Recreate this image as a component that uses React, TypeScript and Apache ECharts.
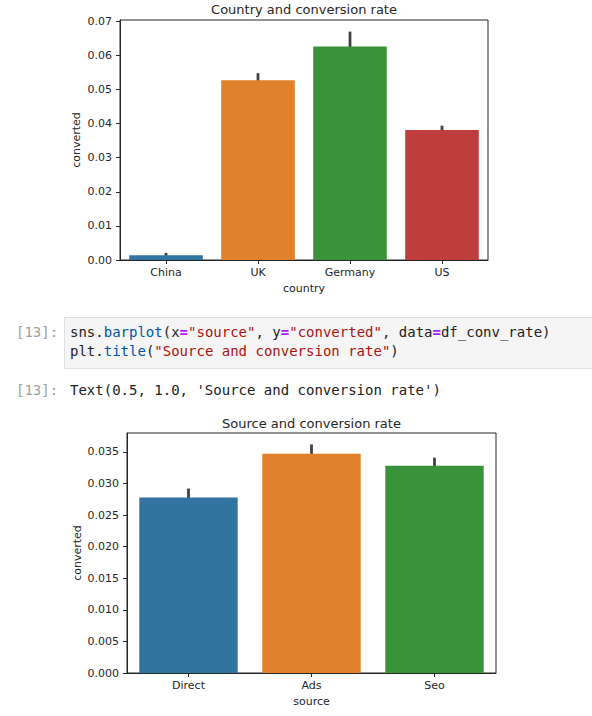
import { useEffect, useRef } from "react";
import * as echarts from "echarts";

const countries = ["China", "UK", "Germany", "US"];
const countryRate = [0.0014, 0.0527, 0.0626, 0.0381];
const countryLow = [0.0006, 0.0499, 0.0578, 0.0367];
const countryHigh = [0.0021, 0.0548, 0.067, 0.0394];
const countryTicks = [0, 0.01, 0.02, 0.03, 0.04, 0.05, 0.06, 0.07];

const sources = ["Direct", "Ads", "Seo"];
const sourceRate = [0.0278, 0.0347, 0.0328];
const sourceLow = [0.0263, 0.0333, 0.0317];
const sourceHigh = [0.0292, 0.0362, 0.0341];
const sourceTicks = [0, 0.005, 0.01, 0.015, 0.02, 0.025, 0.03, 0.035];

const palette = ["#3274a1", "#e1812c", "#3a923a", "#c03d3e"];
const ink = "#262626";
const font = "DejaVu Sans";
const mono = "'DejaVu Sans Mono', monospace";

type BarSpec = {
  title: string;
  xName: string;
  cats: string[];
  vals: number[];
  lo: number[];
  hi: number[];
  ticks: number[];
  digits: number;
  max: number;
  grid: { left: number; right: number; top: number; bottom: number };
  titleY: number;
  yNameGap: number;
  width: number;
};

function buildOption(s: BarSpec) {
  const axisLine = { show: true, lineStyle: { color: ink, width: 1 } };
  const cx = (s.grid.left + (s.width - s.grid.right)) / 2;
  return {
    animation: false,
    grid: { ...s.grid, show: true, borderColor: ink, borderWidth: 1 },
    graphic: [
      {
        type: "text",
        x: cx,
        y: s.titleY,
        style: {
          text: s.title,
          font: `13px ${font}`,
          fill: ink,
          textAlign: "center",
          textVerticalAlign: "middle",
        },
      },
    ],
    xAxis: {
      type: "category",
      data: s.cats,
      name: s.xName,
      nameLocation: "middle",
      nameGap: 22,
      nameTextStyle: { fontFamily: font, fontSize: 11, color: ink, verticalAlign: "top" },
      axisLine,
      axisTick: { show: true, alignWithLabel: true, length: 4, lineStyle: { color: ink } },
      axisLabel: { fontFamily: font, fontSize: 11, color: ink, margin: 7 },
    },
    yAxis: {
      type: "value",
      min: 0,
      max: s.max,
      name: "converted",
      nameLocation: "middle",
      nameGap: s.yNameGap,
      nameMoveOverlap: false,
      nameTextStyle: { fontFamily: font, fontSize: 11, color: ink, verticalAlign: "middle" },
      axisLine,
      splitLine: { show: false },
      axisTick: { show: true, length: 4, customValues: s.ticks, lineStyle: { color: ink } },
      axisLabel: {
        fontFamily: font,
        fontSize: 11,
        color: ink,
        margin: 8,
        customValues: s.ticks,
        formatter: (v: number) => v.toFixed(s.digits),
      },
    },
    series: [
      {
        type: "bar",
        barWidth: "80%",
        data: s.vals.map((v, i) => ({ value: v, itemStyle: { color: palette[i] } })),
      },
      {
        type: "custom",
        encode: { x: 0, y: [1, 2] },
        data: s.lo.map((l, i) => [i, l, s.hi[i]]),
        renderItem: (_p: any, api: any) => {
          const a = api.coord([api.value(0), api.value(1)]);
          const b = api.coord([api.value(0), api.value(2)]);
          return {
            type: "line",
            shape: { x1: a[0], y1: a[1], x2: b[0], y2: b[1] },
            style: { stroke: "#424242", lineWidth: 2.8 },
          };
        },
      },
    ],
  };
}

function BarChart({ spec, height }: { spec: BarSpec; height: number }) {
  const ref = useRef<HTMLDivElement>(null);
  useEffect(() => {
    if (!ref.current) return;
    const chart = echarts.init(ref.current, null, { renderer: "svg" });
    chart.setOption(buildOption(spec));
    return () => chart.dispose();
  }, [spec]);
  return <div ref={ref} style={{ width: spec.width, height }} />;
}

const countrySpec: BarSpec = {
  title: "Country and conversion rate",
  xName: "country",
  cats: countries,
  vals: countryRate,
  lo: countryLow,
  hi: countryHigh,
  ticks: countryTicks,
  digits: 2,
  max: 0.0704,
  grid: { left: 120, right: 104, top: 20, bottom: 40 },
  titleY: 9,
  yNameGap: 44,
  width: 592,
};

const sourceSpec: BarSpec = {
  title: "Source and conversion rate",
  xName: "source",
  cats: sources,
  vals: sourceRate,
  lo: sourceLow,
  hi: sourceHigh,
  ticks: sourceTicks,
  digits: 3,
  max: 0.038,
  grid: { left: 127, right: 96, top: 28, bottom: 43 },
  titleY: 18,
  yNameGap: 50,
  width: 592,
};

const prompt = { position: "absolute" as const, left: 16, color: "#9e9e9e", fontFamily: mono, fontSize: 14 };
const codeLine = { position: "absolute" as const, left: 70, fontFamily: mono, fontSize: 14, whiteSpace: "pre" as const, color: "#212121" };
const prop = { color: "#0055aa" };
const op = { color: "#aa22ff", fontWeight: 700 };
const str = { color: "#aa1111" };

export default function App() {
  return (
    <div style={{ position: "fixed", left: 0, top: 0, width: 592, height: 716, background: "#fff", overflow: "hidden" }}>
      <div style={{ position: "absolute", left: 0, top: 0 }}>
        <BarChart spec={countrySpec} height={300} />
      </div>
      <div
        style={{
          position: "absolute",
          left: 64,
          top: 317,
          width: 560,
          height: 52,
          background: "#f5f5f5",
          border: "1px solid #e0e0e0",
          boxSizing: "border-box",
        }}
      />
      <div style={{ ...prompt, top: 324 }}>[13]:</div>
      <div style={{ ...codeLine, top: 324 }}>
        sns.<span style={prop}>barplot</span>(x<span style={op}>=</span>
        <span style={str}>"source"</span>, y<span style={op}>=</span>
        <span style={str}>"converted"</span>, data<span style={op}>=</span>df_conv_rate)
      </div>
      <div style={{ ...codeLine, top: 343 }}>
        plt.<span style={prop}>title</span>(<span style={str}>"Source and conversion rate"</span>)
      </div>
      <div style={{ ...prompt, top: 382 }}>[13]:</div>
      <div style={{ ...codeLine, top: 382 }}>Text(0.5, 1.0, 'Source and conversion rate')</div>
      <div style={{ position: "absolute", left: 0, top: 405 }}>
        <BarChart spec={sourceSpec} height={311} />
      </div>
    </div>
  );
}
